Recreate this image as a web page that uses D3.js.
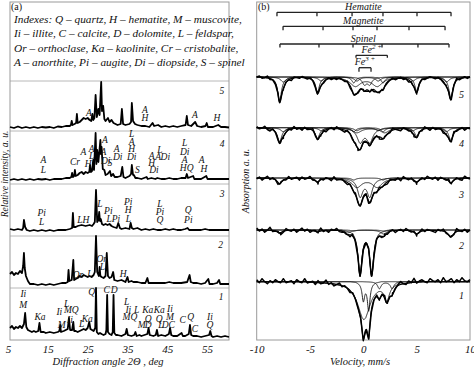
<!DOCTYPE html>
<html><head><meta charset="utf-8">
<script src="https://cdn.jsdelivr.net/npm/d3@7"></script>
<style>
body{margin:0;background:#fff}
svg{display:block}
text{font-family:"Liberation Serif","Times New Roman",serif;fill:#111}
.it{font-style:italic}
</style></head><body>
<svg id="c" width="474" height="370" font-family="Liberation Serif, serif"></svg>
<script>
// ---------------- DATA: (a) X-ray diffraction ----------------
const xrdTicks = [5, 15, 25, 35, 45, 55];
const xrdOffsets = [0, 52, 104, 156, 209];      // stacking offsets of patterns 1..5
const xrdDividers = [52, 104, 156, 209, 259];
const legendLines = [
  "Indexes: Q \u2013 quartz, H \u2013 hematite, M \u2013 muscovite,",
  "Ii \u2013 illite, C \u2013 calcite, D \u2013 dolomite, L \u2013 feldspar,",
  "Or \u2013 orthoclase, Ka \u2013 kaolinite, Cr \u2013 cristobalite,",
  "A \u2013 anorthite, Pi \u2013 augite, Di \u2013 diopside, S \u2013 spinel"
];
const xrd1 = [[5,12],[5.5,14],[6,11],[6.5,13],[7,12],[7.5,14],[8,12],[8.5,16],[8.8,27],[9.1,13],[9.5,10],[10,9],[10.5,8],[11,9],[11.5,8],[12.1,9],[12.4,17],[12.7,8],[13.5,8],[14,7],[15,8],[16,7],[17,8],[17.4,9],[17.6,15],[17.8,8],[18.5,9],[19,10],[19.5,11],[19.8,22],[20.1,10],[20.6,10],[20.9,18],[21.1,9],[21.5,9],[22,8],[22.5,9],[23,10],[23.5,11],[24,10],[24.5,12],[24.9,18],[25.2,11],[25.6,10],[26,9],[26.4,12],[26.6,52],[26.8,8],[27.2,6],[27.6,7],[28,6],[28.5,5],[29,6],[29.2,10],[29.4,45],[29.6,8],[30,6],[30.5,5],[30.8,8],[31.0,45],[31.2,7],[31.6,5],[32,5],[33,4],[33.5,5],[34,6],[34.3,11],[34.6,5],[35.5,4],[36.2,5],[36.5,8],[36.8,4],[37.5,5],[38,4],[39.5,6],[39.8,12],[40.1,5],[41,4],[41.6,5],[41.9,10],[42.2,4],[43,5],[44,4],[44.9,6],[45.2,12],[45.5,5],[46,4],[47,4],[48.1,7],[48.4,4],[49,4],[49.9,6],[50.2,15],[50.5,5],[51,4],[52,4],[53,3],[54,4],[55,5],[55.3,9],[55.6,4],[56,3],[57,4],[58,3],[59,4],[60,3]];
const xrd2 = [[5,14],[5.5,16],[6,13],[6.5,15],[7,14],[7.5,17],[8,15],[8.3,22],[8.5,35],[8.7,20],[9,12],[9.5,7],[10,4],[11,4],[12,3],[13,4],[14,3],[15,4],[16,3],[17,4],[18,5],[19,5],[19.5,6],[19.7,18],[19.9,7],[20.5,8],[20.9,28],[21.1,8],[21.5,9],[22,10],[22.5,12],[23,11],[23.5,13],[24,12],[24.5,11],[25,12],[25.5,11],[26,13],[26.3,16],[26.6,52],[26.9,16],[27.3,12],[27.5,21],[27.7,12],[28,11],[28.5,10],[29,12],[29.3,35],[29.6,12],[30,10],[30.5,11],[30.9,16],[31.2,8],[32,7],[33,8],[34,6],[34.5,11],[34.8,6],[35.5,7],[36,6],[37,6],[38,5],[39,5],[39.5,10],[39.8,5],[41,5],[42,5],[43,5],[44,5],[45,6],[46,5],[47,5],[48,5],[49.5,6],[50.1,13],[50.4,6],[51,5],[52,5],[53,4],[54,5],[54.8,9],[55.1,4],[56,4],[57,5],[57.5,8],[57.8,4],[59,4],[60,4]];
const xrd3 = [[5,7],[6,6],[7,7],[8,6],[8.3,8],[8.5,16],[8.8,9],[9.2,6],[10,5],[11,6],[12,5],[13,6],[14,5],[15,6],[16,5],[17,6],[18,6],[19,6],[20,7],[20.6,8],[20.8,23],[21.0,9],[21.5,9],[22,10],[23,11],[24,10],[25,11],[25.6,10],[26,12],[26.3,14],[26.6,46],[26.9,14],[27.2,16],[27.4,24],[27.6,15],[27.8,17],[28.1,12],[28.5,11],[29,12],[29.5,11],[30,12],[30.5,10],[31,9],[31.8,8],[32.2,13],[32.6,8],[33,7],[34,8],[35,7],[35.3,13],[35.6,8],[36,7],[37,8],[38,6],[39,7],[40,6],[41,7],[42,6],[43,6],[44,7],[45,6],[46,7],[47,6],[48,6],[49,7],[49.6,8],[50,6],[51,6],[52,6],[53,6],[54,7],[55,6],[56,6],[57,6],[58,6],[59,6],[60,6]];
const xrd4 = [[5,4],[6,5],[7,4],[8,5],[9,4],[10,5],[11,4],[12,5],[13,4.5],[14,5],[15,4],[16,5],[17,5],[18,5],[19,6],[20,6],[20.4,7],[20.6,11],[20.8,7],[21.1,8],[21.3,14],[21.5,8],[22,9],[22.5,11],[23,12],[23.5,10],[24,12],[24.5,11],[24.9,12],[25.1,19],[25.3,12],[25.6,13],[25.9,24],[26.1,14],[26.5,51],[26.7,20],[26.9,34],[27.2,22],[27.7,44],[27.85,30],[28.0,37],[28.3,15],[28.7,14],[29,9],[29.5,10],[30.1,13],[30.4,8],[30.9,10],[31.3,7],[32,7],[32.8,8],[33.2,17],[33.5,7],[34,6],[35,8],[35.4,10],[35.6,19],[35.9,9],[36.1,9],[36.5,6],[37,6],[38,5],[39.3,7],[39.6,5],[40.5,6],[41.5,5],[42,6],[43,5],[44,5],[45,6],[46,5],[47,5],[48,6],[49.1,6],[49.4,10],[49.7,6],[51,8],[51.3,5],[52,5],[53,5],[54.3,8],[54.6,5],[56,5],[57,5],[58,5],[59,5],[60,5]];
const xrd5 = [[5,4],[6,3],[7,4.5],[8,3],[9,4],[10,3],[11,4],[12,3],[13,4],[14,3.5],[15,4],[16,3],[17,4.5],[18,4],[19,5],[20,5],[20.3,6],[20.5,10],[20.7,6],[21.2,7],[21.6,8],[21.8,17],[22.0,8],[22.5,9],[23,11],[23.5,13],[24,12],[24.5,13],[25,11],[25.4,10],[25.7,17],[25.9,11],[26.2,13],[26.5,36],[26.8,14],[27.2,22],[27.5,16],[27.9,49],[28.1,20],[28.4,25],[28.7,12],[29,10],[29.6,13],[30,9],[30.5,11],[31,8],[32,6],[32.8,7],[33.1,22],[33.4,7],[34,6],[35,7],[35.4,9],[35.6,28],[35.9,10],[36.4,7],[37,6],[38,5],[39,5],[40,4],[40.8,8],[41.2,5],[42.2,6],[43,4],[44,5],[45,4],[46,5],[47,4],[48,5],[49.1,6],[49.4,15],[49.7,6],[50.5,5],[51.5,9],[52,5],[53,4],[54.1,5],[54.4,8],[54.7,4],[56,4],[57.3,6],[58,4],[59,4],[60,3.5]];
const xrdPatterns = [xrd1, xrd2, xrd3, xrd4, xrd5];
// phase labels: [text, 2theta, intensity above pattern base]
const lab1 = [["Ii",8.34,46.7],["M",8.34,35.7],["Ka",12.53,23.3],["L",19.24,36.7],["Ii",17.4,28.3],["MQ",20.4,30],["Ii",20.07,20],["M",17.98,15],["L",23.0,16.7],["Ka",24.4,21.7],["Q",25.52,48.3],["C",29.28,50.7],["D",31.19,50.7],["L",34.31,38.3],["Ii",34.71,30],["MQ",35.14,23.3],["L",36.82,30],["M",38.07,15],["Ka",39.58,30],["Q",39.73,21.7],["D",39.73,15],["Ka",42.49,30],["Q",42.49,21.7],["L",42.92,15],["Ii",45.18,31.7],["M",45.18,23.3],["DC",44.75,15],["C",48.37,20],["Q",50.38,23.3],["C",51.46,11.7],["Ii",55.23,23.3],["Q",55.23,15],["1",58.0,43.3]];
const lab2 = [["Or",22.08,13],["L",25.09,14.7],["Or",28.03,29.7],["L",28.18,21.3],["H",33.45,14.7],["2",57.9,43]];
const lab3 = [["Pi",12.96,23.7],["L",12.96,14.3],["LH",23.41,16],["L",27.6,32.7],["Pi",29.69,25.3],["LPi",30.94,17.7],["Pi",34.71,34.3],["H",34.71,26.7],["L",34.71,17.7],["L",42.67,32.7],["Pi",42.67,24.3],["Q",42.67,16],["Q",49.78,26],["Pi",49.78,16.7],["3",58.3,42]];
const lab4 = [["A",13.36,24],["L",13.36,14.7],["Cr",21.32,22.3],["A",23.41,32.3],["H",24.66,20.7],["A",25.52,35.7],["L",25.52,28],["A",28.86,44.7],["A",28.43,32.3],["Di",29.03,23.3],["S",30.11,21.3],["A",31.8,35.7],["Di",32.05,27.3],["L",35.56,50.7],["A",35.56,42.3],["H",35.56,35.7],["Di",35.56,27.3],["S",36.97,14.7],["A",40.59,28],["H",40.59,21.3],["Di",41.16,14],["L",42.67,34],["A",42.2,27],["Di",44.0,27],["L",48.87,41.3],["Di",48.87,32.3],["A",48.87,24],["HQ",49.37,16.7],["A",53.14,24],["H",53.72,15.7],["4",58.3,40.7]];
const lab5 = [["A",24.84,18],["A",38.9,21],["H",38.9,13],["A",51.46,16],["H",57.0,13],["5",58.2,40]];
const xrdLabels = [lab1, lab2, lab3, lab4, lab5];

// ---------------- DATA: (b) Mossbauer ----------------
const velTicks = [-10, -5, 0, 5, 10];
const mossBase = [204.7, 153, 101, 50.7, 0];   // baselines of spectra 1..5 (absorption units)
const mossNames = ["1","2","3","4","5"];
const mossNameDepth = [13.5, 15, 16, 16, 17];
// Lorentzian-like line profile read as a table: [distance in half-widths, relative depth]
const lineProfile = [[0,1],[0.25,0.941],[0.5,0.8],[0.75,0.64],[1,0.5],[1.25,0.39],[1.5,0.308],[2,0.2],[2.5,0.138],[3,0.1],[4,0.059],[5,0.038],[6,0.027],[8,0]];
// components: lines [center velocity, depth, half-width]
const s1c = [[[0.0,18,0.15],[0.5,28,0.15]], [[0.05,38,0.7],[2.2,16,0.3]], [[1.5,7,0.2],[2.7,7,0.2]]];
const s2c = [[[-0.31,44,0.22],[0.78,44,0.22]], [[-1.5,3,0.35],[1.9,4,0.35]], [[-7.85,3,0.3],[-4.3,2,0.3],[-0.9,1,0.3],[1.85,1,0.3],[5.0,4,0.3],[8.2,7,0.3]]];
const s3c = [[[-0.3,18,0.3],[0.6,18,0.3]], [[-0.6,9,0.55],[1.3,9,0.55]], [[-7.85,6,0.25],[-4.3,4,0.25],[-0.9,2,0.25],[1.85,2,0.25],[5.0,4,0.25],[8.2,5,0.25]]];
const s4c = [[[-7.85,14,0.25],[-4.3,10.5,0.25],[-0.9,4,0.25],[1.85,4,0.25],[5.0,8.5,0.25],[8.2,12.5,0.25]], [[-7.5,4,0.3],[-3.95,3,0.3],[-0.6,3,0.3],[1.4,3,0.3],[4.65,3,0.3],[7.8,4,0.3]], [[-0.3,14,0.35],[0.6,14,0.35]], [[-0.6,5,0.5],[2.0,5,0.5]]];
const s5c = [[[-7.85,23.5,0.22],[-4.3,15,0.22],[-0.9,6,0.22],[1.85,6,0.22],[5.0,14,0.22],[8.2,21,0.22]], [[-7.5,5,0.3],[-3.95,4,0.3],[-0.6,4,0.3],[1.4,4,0.3],[4.65,4,0.3],[7.8,5,0.3]], [[-0.75,9,0.6],[1.3,9,0.6]], [[0.1,7,0.25],[0.6,7,0.25]]];
const mossComps = [s1c, s2c, s3c, s4c, s5c];
// experimental scatter around the fit, every 0.25 mm/s from -10 to 10
const r1 = [-2,1,-3,0,2,-1,1,-2,0,1,-3,1,0,-1,2,-2,0,1,-3,1,0,-1,2,-2,1,0,-3,1,-1,2,0,-2,1,-1,0,2,-1,0,1,-2,1,0,-1,2,0,-2,1,-1,-3,1,0,-2,1,-1,-3,0,1,-2,0,-4,1,-1,-2,0,1,-3,-1,0,-2,1,-4,0,-1,-3,1,-2,0,-4,-1,0,-2];
const r2 = [-2,1,-1,2,0,-3,1,0,-1,2,1,-2,0,1,-1,2,0,-2,1,-1,2,0,-1,1,-3,1,0,2,-1,0,-2,1,1,-1,0,2,-2,1,0,-1,1,0,-2,1,2,-1,0,1,-2,1,0,-1,2,0,-1,1,-2,0,1,-1,2,0,-2,1,-1,0,1,2,-1,0,-2,1,0,-1,1,-3,0,1,-1,2,0];
const r3 = [1,-1,2,0,-2,1,-1,0,2,-1,0,1,-2,1,0,-1,2,-1,1,0,-2,1,0,2,-1,1,-1,0,2,-2,1,0,-1,1,2,-1,0,-2,1,0,1,-1,2,0,-1,1,-2,0,1,2,-1,0,1,-1,2,-2,0,1,-1,1,2,0,-1,1,-2,0,1,-1,2,-1,0,1,-2,1,0,-1,1,2,-2,0,1];
const r4 = [-1,1,0,-2,1,2,-1,0,1,-1,2,0,-1,1,-2,1,0,2,-1,1,0,-2,1,0,1,-1,2,0,-1,1,-2,0,1,2,-1,0,1,-1,2,0,-1,1,-2,0,1,-1,2,1,-1,0,1,-2,0,1,2,-1,0,1,-1,2,0,-1,1,-2,0,2,-1,1,0,-1,2,-1,0,1,-2,1,0,-1,2,0,1];
const r5 = [0,-1,1,0,-2,1,0,1,-1,0,1,-1,0,2,-1,0,1,-1,0,1,-1,0,1,-2,0,1,0,-1,1,0,1,-1,0,1,-1,2,0,-1,1,0,-1,1,0,-1,2,0,1,-1,0,1,0,-1,1,0,-1,1,0,2,-1,0,1,0,-1,1,0,-1,0,1,-1,0,1,-1,0,1,0,-2,1,0,-1,1,0];
const mossResid = [r1, r2, r3, r4, r5];
// reference line markers
const markerNames = ["Hematite", "Magnetite", "Spinel", "Fe2+", "Fe3+"];
const markerVel = [
  [-8.10,-4.35,-1.06,1.84,5.03,8.22],
  [-7.53,-3.78,-0.97,1.28,4.28,7.66],
  [-7.82,-4.16,-0.97,1.75,5.12,8.03],
  [-0.69,2.25],
  [-0.41,0.72]
];

// ---------------- LAYOUT ----------------
const svg = d3.select("#c");
const frameCol = "#9a9a9a";
const xA = d3.scaleLinear().domain([5, 60]).range([10, 229]);
const yA = d3.scaleLinear().domain([0, 259]).range([340, 81]);
const xB = d3.scaleLinear().domain([-10, 10]).range([256.7, 470]);
const yB = d3.scaleLinear().domain([0, 263]).range([77, 340]);

// ---- panel (a)
const gA = svg.append("g");
gA.selectAll("line.div").data(xrdDividers).join("line")
  .attr("x1", 10).attr("x2", 229).attr("y1", d => yA(d)).attr("y2", d => yA(d))
  .attr("stroke", "#b8b8b8").attr("stroke-width", 1);
gA.append("rect").attr("x", 10).attr("y", 2).attr("width", 219).attr("height", 338)
  .attr("fill", "none").attr("stroke", frameCol).attr("stroke-width", 1);
gA.append("text").attr("x", 11).attr("y", 10).attr("font-size", 10).text("(a)");
gA.selectAll("text.leg").data(legendLines).join("text").attr("class", "it")
  .attr("x", 14).attr("y", (d, i) => 23 + i * 14.3).attr("font-size", 11.3).text(d => d);

const lineA = (off) => d3.line().x(d => xA(d[0])).y(d => yA(off + d[1]));
xrdPatterns.forEach((p, i) => {
  gA.append("path").datum(p).attr("d", lineA(xrdOffsets[i]))
    .attr("fill", "none").attr("stroke", "#000").attr("stroke-width", 1.8).attr("stroke-linejoin", "round");
});
xrdLabels.forEach((labs, i) => {
  gA.selectAll(null).data(labs).join("text").attr("class", "it")
    .attr("x", d => xA(d[1])).attr("y", d => yA(xrdOffsets[i] + d[2]))
    .attr("dy", "0.35em").attr("text-anchor", "middle").attr("font-size", 9.5).text(d => d[0]);
});
const axA = gA.append("g").attr("transform", "translate(0,340)")
  .call(d3.axisBottom(xA).tickValues(xrdTicks).tickSize(0).tickPadding(5).tickFormat(d3.format("d")));
axA.attr("font-family", null);
axA.select(".domain").remove();
axA.selectAll("text").attr("class", "it").attr("font-size", 11).attr("fill", "#111").attr("dx", -2);
gA.append("text").attr("class", "it").attr("x", 108).attr("y", 365).attr("text-anchor", "middle")
  .attr("font-size", 10.5).text("Diffraction angle 2\u0398 , deg");
gA.append("text").attr("class", "it").attr("transform", "translate(8,174) rotate(-90)")
  .attr("text-anchor", "middle").attr("font-size", 9.5).text("Relative intensity, a. u.");

// ---- panel (b)
const gB = svg.append("g");
gB.append("rect").attr("x", 256.7).attr("y", 2).attr("width", 213.3).attr("height", 338)
  .attr("fill", "none").attr("stroke", frameCol).attr("stroke-width", 1);
gB.append("text").attr("x", 258).attr("y", 10).attr("font-size", 10).text("(b)");

const markerBarY = [12.3, 26.3, 44, 55.3, 67.7];
const markerTextY = [9.5, 23.5, 41.5, 52.5, 65];
const markerTickLen = [4, 4, 3.5, 2.5, 4];
markerVel.forEach((vs, i) => {
  const g = gB.append("g");
  g.append("line").attr("x1", xB(d3.min(vs))).attr("x2", xB(d3.max(vs)))
    .attr("y1", markerBarY[i]).attr("y2", markerBarY[i]).attr("stroke", "#222").attr("stroke-width", 1.3);
  g.selectAll("line.t").data(vs).join("line")
    .attr("x1", d => xB(d)).attr("x2", d => xB(d))
    .attr("y1", markerBarY[i]).attr("y2", markerBarY[i] + markerTickLen[i])
    .attr("stroke", "#222").attr("stroke-width", 1.3);
  const name = markerNames[i];
  const t = g.append("text").attr("class", "it").attr("text-anchor", "middle")
    .attr("x", name.startsWith("Fe") ? xB((d3.min(vs) + d3.max(vs)) / 2) : xB(0))
    .attr("y", markerTextY[i]).attr("font-size", 10).attr("fill", "#333");
  if (name.startsWith("Fe")) {
    t.append("tspan").text("Fe");
    t.append("tspan").attr("font-size", 7).attr("dy", -4).text(name.slice(2, 3) + " +");
  } else t.text(name);
});

const shape = d3.scaleLinear().domain(lineProfile.map(d => d[0])).range(lineProfile.map(d => d[1])).clamp(true);
const compDepth = (comp, v) => d3.sum(comp, l => l[1] * shape(Math.abs(v - l[0]) / l[2]));
const envDepth = (comps, v) => d3.sum(comps, c => compDepth(c, v));
const drawGrid = d3.range(-10, 10.0001, 0.02);
const residGrid = d3.range(-10, 10.0001, 0.25);

mossComps.forEach((comps, i) => {
  const base = mossBase[i];
  const ln = d3.line().x(d => xB(d[0])).y(d => yB(base + d[1]));
  comps.forEach(c => {
    gB.append("path").datum(drawGrid.map(v => [v, compDepth(c, v)])).attr("d", ln)
      .attr("fill", "none").attr("stroke", "#111").attr("stroke-width", 0.9);
  });
  gB.append("path").datum(drawGrid.map(v => [v, envDepth(comps, v)])).attr("d", ln)
    .attr("fill", "none").attr("stroke", "#000").attr("stroke-width", 1.1);
  const pts = residGrid.map((v, k) => [v, envDepth(comps, v) + mossResid[i][k]]);
  comps.flat().filter(l => l[2] < 0.45).forEach(l => {
    [-0.08, 0, 0.08].forEach(o => pts.push([l[0] + o, envDepth(comps, l[0] + o)]));
  });
  pts.sort((a, b) => a[0] - b[0]);
  gB.append("path").datum(pts).attr("d", ln)
    .attr("fill", "none").attr("stroke", "#000").attr("stroke-width", 1.5).attr("stroke-linejoin", "round");
  gB.append("text").attr("class", "it").attr("x", 459).attr("y", yB(base + mossNameDepth[i]))
    .attr("dy", "0.35em").attr("font-size", 10).text(mossNames[i]);
});

const axB = gB.append("g").attr("transform", "translate(0,340)")
  .call(d3.axisBottom(xB).tickValues(velTicks).tickSize(0).tickPadding(5).tickFormat(d3.format("d")));
axB.attr("font-family", null);
axB.select(".domain").remove();
axB.selectAll("text").attr("class", "it").attr("font-size", 11).attr("fill", "#111")
  .text(d => d < 0 ? "-" + Math.abs(d) : d);
gB.append("text").attr("class", "it").attr("x", 360).attr("y", 365).attr("text-anchor", "middle")
  .attr("font-size", 10.5).text("Velocity, mm/s");
gB.append("text").attr("class", "it").attr("transform", "translate(249,181) rotate(-90)")
  .attr("text-anchor", "middle").attr("font-size", 10).attr("fill", "#333").text("Absorption a. u.");
</script>
</body></html>
